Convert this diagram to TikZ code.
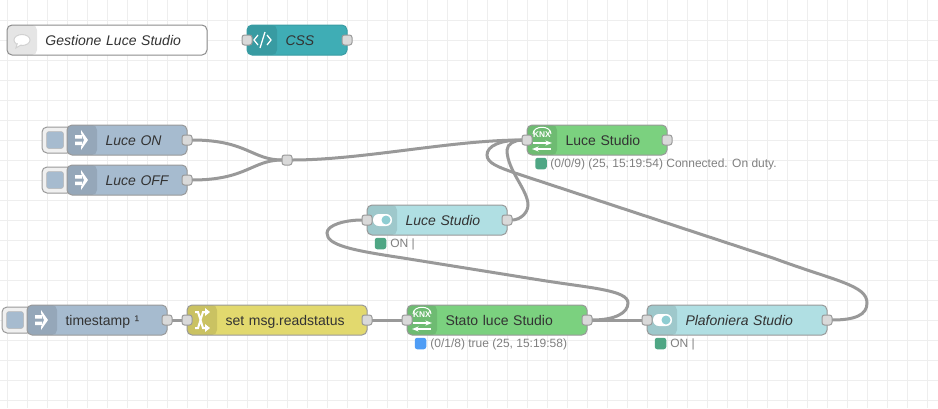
\documentclass[tikz,border=0pt]{standalone}
\usepackage{fontspec}
\setmainfont{Liberation Sans}
\usetikzlibrary{arrows.meta,backgrounds,positioning}
\newlength{\px}
\setlength{\px}{0.6pt}
\definecolor{injcol}{HTML}{A6BBCF}
\definecolor{csscol}{HTML}{3FADB5}
\definecolor{knxcol}{HTML}{7BD17F}
\definecolor{swcol}{HTML}{B0DFE3}
\definecolor{knobcol}{HTML}{8ECDD2}
\definecolor{chgcol}{HTML}{E2D96E}
\definecolor{edgecol}{HTML}{999999}
\definecolor{gridcol}{HTML}{EEEEEE}
\definecolor{okcol}{HTML}{4FA684}
\definecolor{infocol}{HTML}{4F9DF5}
\tikzset{
    pics/bubbleicon/.style={code={
        \draw[black!18, fill=white, line width=0.6pt] (15,0) ellipse (8 and 5.5);
        \fill[black!18] (10,3) -- (8,9) -- (15,5) -- cycle;
        \fill[white] (11,3) -- (10,6.5) -- (14.5,4) -- cycle;
    }},
    pics/codeicon/.style={code={
        \draw[white, line width=0.75pt] (11,-5) -- (7,0) -- (11,5) (18,-8) -- (13,8) (20,-5) -- (24,0) -- (20,5);
    }},
    pics/injecticon/.style={code={
        \fill[white] (8,-5) rectangle (15,-1.5) (8,1.5) rectangle (15,5);
        \fill[white] (14,-10) -- (21,0) -- (14,10) -- (14,7) -- (17,0) -- (14,-7) -- cycle;
    }},
    pics/shuffleicon/.style={code={
        \draw[white, line width=1.2pt] (8,-8) -- (11,-8) -- (16,8) -- (19,8) (8,8) -- (11,8) -- (16,-8) -- (19,-8);
        \fill[white] (18,-12) -- (23,-8) -- (18,-4) -- cycle (18,4) -- (23,8) -- (18,12) -- cycle;
    }},
    pics/toggleicon/.style={code={
        \fill[white, rounded corners=3.5pt] (6,-6) rectangle (25,6);
        \fill[knobcol] (19,0) circle (4.5);
    }},
    pics/knxicon/.style={code={
        \draw[white, line width=0.6pt] (6,-6) .. controls (6,-15) and (24,-15) .. (24,-6);
        \node[inner sep=0pt, text=white, font=\fontsize{5}{5}\selectfont\bfseries] (knxmark) at (15,-5.5) {KNX};
        \draw[white, line width=0.7pt, -{Stealth[length=4pt, open]}] (6,3) -- (25,3);
        \draw[white, line width=0.7pt, -{Stealth[length=4pt, open]}] (24,9) -- (5,9);
    }}
}
\begin{document}
\begin{tikzpicture}[
    x=\px, y=-\px,
    flow/.style={rectangle, draw=edgecol, line width=0.6pt, rounded corners=3pt, outer sep=0pt,
        minimum height=30\px, inner xsep=0pt, inner ysep=0pt, text width=#1\px, align=left,
        text depth=1.4pt, text height=7.6pt, text=black!80,
        font=\fontsize{8.4}{10}\selectfont,
        execute at begin node={\leavevmode\hspace*{38.5\px}},
        path picture={
            \fill[black, opacity=0.1] (path picture bounding box.north west) rectangle ++(30,30);
        }},
    ital/.style={font=\fontsize{8.4}{10}\selectfont\itshape},
    port/.style={rectangle, draw=edgecol, fill=black!15, line width=0.6pt, rounded corners=1.5pt,
        minimum size=10\px, inner sep=0pt, outer sep=0pt},
    btn/.style={rectangle, draw=edgecol, fill=black!6, line width=0.6pt, rounded corners=3pt,
        minimum width=30\px, minimum height=26\px, inner sep=0pt},
    btncore/.style={rectangle, fill=injcol, draw=edgecol!70, line width=0.3pt, rounded corners=1.5pt,
        minimum size=17\px, inner sep=0pt},
    dot/.style={rectangle, rounded corners=1.5pt, minimum size=11.5\px, inner sep=0pt},
    stat/.style={anchor=west, inner sep=0pt, text=black!50, font=\fontsize{7.2}{9}\selectfont},
    wire/.style={draw=edgecol, line width=1.8pt}
]
    % canvas grid
    \useasboundingbox (0,0) rectangle (938,408);
    \begin{scope}[on background layer]
        \fill[white] (0,0) rectangle (938,408);
        \foreach \gx in {7,27,...,927} \draw[gridcol, line width=0.5pt] (\gx,0) -- (\gx,408);
        \foreach \gy in {20,40,...,400} \draw[gridcol, line width=0.5pt] (0,\gy) -- (938,\gy);
    \end{scope}

    % top row
    \node[flow=200, ital, fill=white, draw=black!45] (note) at (107,40) {Gestione Luce Studio};
    \node[flow=100, ital, fill=csscol, draw=csscol!90!black] (css) at (297,40) {CSS};
    \pic at (note.west) {bubbleicon};
    \pic at (css.west) {codeicon};
    \node[port] (cssI) at (css.west) {};
    \node[port] (cssO) at (css.east) {};

    % inject nodes
    \node[btn] (lonB) at (57,140) {};
    \node[btn] (loffB) at (57,180) {};
    \node[btncore] (lonC) at (55,140) {};
    \node[btncore] (loffC) at (55,180) {};
    \node[flow=120, ital, fill=injcol] (lon) at (127,140) {Luce ON};
    \node[flow=120, ital, fill=injcol, below=10\px of lon] (loff) {Luce OFF};
    \pic at (lon.west) {injecticon};
    \pic at (loff.west) {injecticon};
    \node[port] (lonO) at (lon.east) {};
    \node[port] (loffO) at (loff.east) {};
    \node[port] (jun) at (287,160) {};

    % knx output
    \node[flow=140, fill=knxcol] (knx) at (597,140) {Luce Studio};
    \pic at (knx.west) {knxicon};
    \node[port] (knxI) at (knx.west) {};
    \node[port] (knxO) at (knx.east) {};
    \node[dot, fill=okcol] (knxD) at (541,163.5) {};
    \node[stat] (knxS) at (550,164.5) {(0/0/9) (25, 15:19:54) Connected. On duty.};

    % switch
    \node[flow=140, ital, fill=swcol] (sw) at (437,220) {Luce Studio};
    \pic at (sw.west) {toggleicon};
    \node[port] (swI) at (sw.west) {};
    \node[port] (swO) at (sw.east) {};
    \node[dot, fill=okcol] (swD) at (380.5,243.5) {};
    \node[stat] (swS) at (390,244.5) {ON |};

    % bottom row
    \node[btn] (tsB) at (17,320) {};
    \node[btncore] (tsC) at (15,320) {};
    \node[flow=140, fill=injcol] (ts) at (97,320) {timestamp ¹};
    \node[flow=180, fill=chgcol, right=20\px of ts] (chg) {set msg.readstatus};
    \node[flow=180, fill=knxcol, right=40\px of chg] (stato) {Stato luce Studio};
    \node[flow=180, ital, fill=swcol, right=60\px of stato] (plaf) {Plafoniera Studio};
    \pic at (ts.west) {injecticon};
    \pic at (chg.west) {shuffleicon};
    \pic at (stato.west) {knxicon};
    \pic at (plaf.west) {toggleicon};
    \node[port] (tsO) at (ts.east) {};
    \node[port] (chgI) at (chg.west) {};
    \node[port] (chgO) at (chg.east) {};
    \node[port] (statoI) at (stato.west) {};
    \node[port] (statoO) at (stato.east) {};
    \node[port] (plafI) at (plaf.west) {};
    \node[port] (plafO) at (plaf.east) {};
    \node[dot, fill=infocol] (statoD) at (420.5,343.5) {};
    \node[stat] (statoS) at (430,344.5) {(0/1/8) true (25, 15:19:58)};
    \node[dot, fill=okcol] (plafD) at (660.5,343.5) {};
    \node[stat] (plafS) at (670,344.5) {ON |};

    % wires stay under the ports
    \begin{scope}[on background layer]
        \draw[wire] (lonO) .. controls +(60,0) and +(-35,0) .. (jun);
        \draw[wire] (loffO) .. controls +(60,0) and +(-35,0) .. (jun);
        \draw[wire] (jun) .. controls +(75,0) and +(-75,0) .. (knxI);
        \draw[wire] (swO) .. controls (520,220) and (528,213) .. (528,205)
            .. controls (528,190) and (507,170) .. (507,150)
            .. controls (507,144) and (515,140) .. (knxI);
        \draw[wire] (plafO) .. controls (855,320) and (867,315) .. (867,303)
            .. controls (867,285) and (835,281) .. (773,258) -- (515,173)
            .. controls (498,167) and (487,163) .. (487,155)
            .. controls (487,146) and (500,140) .. (knxI);
        \draw[wire] (statoO) .. controls (615,320) and (628,313) .. (628,303)
            .. controls (628,290) and (590,288) .. (540,280) -- (403,258)
            .. controls (350,250) and (327,245) .. (327,233)
            .. controls (327,225) and (345,220) .. (swI);
        \draw[wire] (tsO) -- (chgI);
        \draw[wire] (chgO) -- (statoI);
        \draw[wire] (statoO) -- (plafI);
    \end{scope}
\end{tikzpicture}
\end{document}
